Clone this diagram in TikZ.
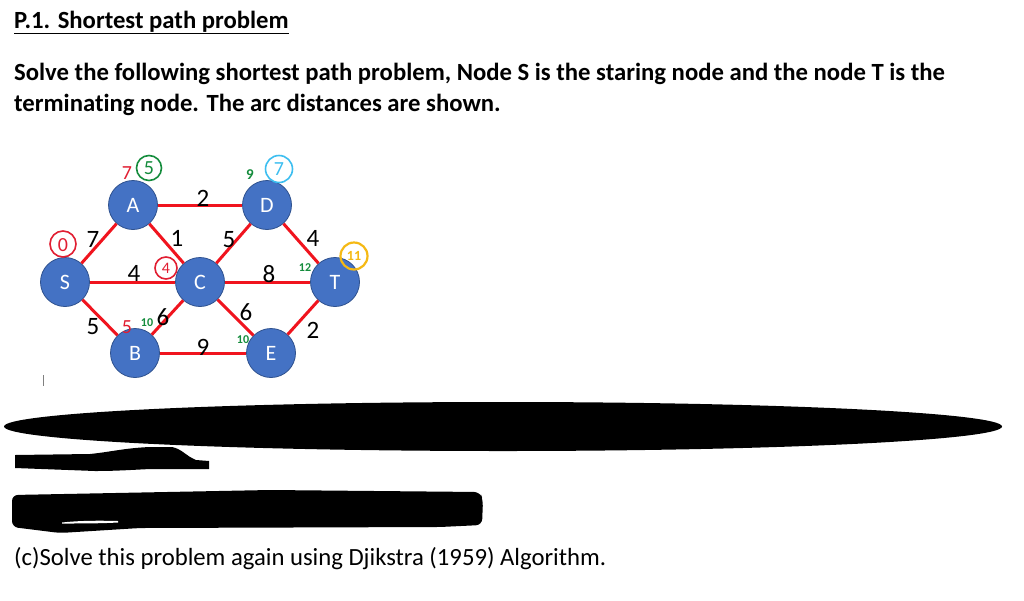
\documentclass[tikz,border=0pt]{standalone}
\usepackage{fontspec}
\setmainfont[Ligatures=NoCommon]{Carlito}
\begin{document}
\begin{tikzpicture}[x=1pt,y=-1pt,
  gnode/.style={circle,fill=nodeblue,draw=nodeborder,line width=0.8pt,minimum size=49pt,inner sep=0pt,text=white,font=\fontsize{22}{22}\selectfont},
  arc/.style={draw=edgered,line width=3pt},
  dist/.style={font=\fontsize{25}{25}\selectfont,inner sep=0pt},
  hand/.style={font=\fontsize{20}{20}\selectfont,inner sep=0pt},
  handsmall/.style={font=\fontsize{12}{12}\selectfont\bfseries,inner sep=0pt},
  txt/.style={anchor=base west,inner sep=0pt,font=\fontsize{24.7}{24.7}\selectfont},
  ring/.style={draw,line width=1.6pt,circle,inner sep=0pt}
]
\definecolor{nodeblue}{RGB}{68,114,196}
\definecolor{nodeborder}{RGB}{47,82,143}
\definecolor{edgered}{RGB}{240,20,30}
\definecolor{penred}{RGB}{225,30,50}
\definecolor{pengreen}{RGB}{20,140,60}
\definecolor{pencyan}{RGB}{60,190,240}
\definecolor{penorange}{RGB}{245,185,20}
\useasboundingbox[fill=white] (0,0) rectangle (1024,600);

% texts
\node[txt,font=\fontsize{24.7}{24.7}\selectfont\bfseries] (title) at (14,28) {\underline{P.1. Shortest path problem}};
\node[txt,font=\fontsize{24.7}{24.7}\selectfont\bfseries] (l1) at (14,80) {Solve the following shortest path problem, Node S is the staring node and the node T is the};
\node[txt,font=\fontsize{24.7}{24.7}\selectfont\bfseries] (l2) at (14,111) {terminating node. The arc distances are shown.};
\node[txt] (l3) at (14,565) {(c)Solve this problem again using Djikstra (1959) Algorithm.};

% graph nodes
\node[gnode] (A) at (133,205) {A};
\node[gnode] (S) at (65,282) {S};
\node[gnode] (C) at (200,282) {C};
\node[gnode] (B) at (135,353) {B};
\node[gnode] (D) at (267,205) {D};
\node[gnode] (T) at (335,282) {T};
\node[gnode] (E) at (271,353) {E};

% arcs
\draw[arc] (S) -- (A);
\draw[arc] (S) -- (C);
\draw[arc] (S) -- (B);
\draw[arc] (A) -- (D);
\draw[arc] (A) -- (C);
\draw[arc] (B) -- (C);
\draw[arc] (B) -- (E);
\draw[arc] (C) -- (D);
\draw[arc] (C) -- (T);
\draw[arc] (C) -- (E);
\draw[arc] (D) -- (T);
\draw[arc] (E) -- (T);

% distances
\node[dist] (dSA) at (93,239) {7};
\node[dist] (dSC) at (134,273) {4};
\node[dist] (dSB) at (93,327) {5};
\node[dist] (dAD) at (203,198) {2};
\node[dist] (dAC) at (177,238) {1};
\node[dist] (dBC) at (163,317) {6};
\node[dist] (dBE) at (203,347) {9};
\node[dist] (dCD) at (229,240) {5};
\node[dist] (dCT) at (269,274) {8};
\node[dist] (dCE) at (246,312) {6};
\node[dist] (dDT) at (313,238) {4};
\node[dist] (dET) at (313,330) {2};

% handwritten marks
\node[hand,text=penred] (hA) at (127,173) {7};
\node[hand,text=pengreen] (hA2) at (149,168) {5};
\node[ring,draw=pengreen,minimum size=25pt] (rA) at (149,168) {};
\node[hand,text=penred] (hS) at (63,245) {0};
\node[ring,draw=penred,minimum size=26pt] (rS) at (63,244) {};
\node[hand,text=penred,font=\fontsize{16}{16}\selectfont] (hC) at (166,268) {4};
\node[ring,draw=penred,minimum size=22pt] (rC) at (166,268) {};
\node[hand,text=penred] (hB) at (127,327) {5};
\node[handsmall,text=pengreen] (hB2) at (147,323) {10};
\node[hand,text=pengreen,font=\fontsize{15}{15}\selectfont\bfseries] (hD) at (250,175) {9};
\node[hand,text=pencyan] (hD2) at (279,169) {7};
\node[ring,draw=pencyan,minimum size=27pt] (rD) at (279,169) {};
\node[handsmall,text=pengreen] (hT) at (305,268) {12};
\node[handsmall,text=penorange,font=\fontsize{14}{14}\selectfont\bfseries] (hT2) at (354,256) {11};
\node[ring,draw=penorange,line width=2.2pt,minimum size=27pt] (rT) at (354,256) {};
\node[handsmall,text=pengreen] (hE) at (243,340) {10};

% cursor mark
\draw[gray,line width=0.8pt] (43,375) -- (43,386);

% redactions
\fill[black] (503,426.5) ellipse [x radius=499, y radius=24.5];
\fill[black] (15,455) -- (90,454) .. controls (110,452) and (125,448) .. (150,447)
  -- (172,447) .. controls (182,449) and (186,456) .. (196,460) -- (209,461)
  -- (209,469) -- (200,469) -- (150,469) .. controls (130,470) and (115,471) .. (95,471)
  -- (15,468) -- cycle;
\fill[black,rounded corners=6] (12,495) -- (270,490) -- (480,492) -- (483,500) -- (482,525)
  -- (440,527) -- (140,528) -- (60,533) -- (12,527) -- cycle;
\fill[white] (62,522.5) .. controls (80,520.5) and (100,520.5) .. (118,521) -- (118,522.5) .. controls (100,523.5) and (80,523.5) .. (62,523.5) -- cycle;
\end{tikzpicture}
\end{document}
